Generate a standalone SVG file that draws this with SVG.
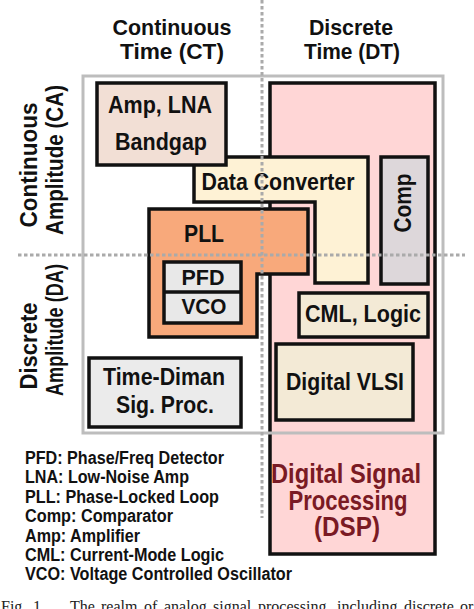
<svg xmlns="http://www.w3.org/2000/svg" width="474" height="609" viewBox="0 0 474 609">
<style>
.t{font-family:"Liberation Sans",Arial,sans-serif;font-weight:bold;fill:#111;text-anchor:middle}
.lg{font-family:"Liberation Sans",Arial,sans-serif;font-weight:bold;fill:#111;font-size:18px}
.dsp{fill:#7a1a24}
.box{stroke:#111;stroke-width:3.5}
.dot{stroke:#aaa;stroke-width:3;stroke-dasharray:3.5 2.5;fill:none}
.cap{font-family:"Liberation Serif","Times New Roman",serif;font-size:16px;fill:#222}
</style>
<rect width="474" height="609" fill="#fff"/>
<g id="headers">
<text class="t" font-size="22.5" x="172" y="35" textLength="119" lengthAdjust="spacingAndGlyphs">Continuous</text>
<text class="t" font-size="22.5" x="172" y="59" textLength="104" lengthAdjust="spacingAndGlyphs">Time (CT)</text>
<text class="t" font-size="22.5" x="351" y="35" textLength="84" lengthAdjust="spacingAndGlyphs">Discrete</text>
<text class="t" font-size="22.5" x="352" y="59" textLength="96" lengthAdjust="spacingAndGlyphs">Time (DT)</text>
<text class="t" font-size="23.5" transform="translate(37,165) rotate(-90)" textLength="125" lengthAdjust="spacingAndGlyphs">Continuous</text>
<text class="t" font-size="23.5" transform="translate(63,160) rotate(-90)" textLength="150" lengthAdjust="spacingAndGlyphs">Amplitude (CA)</text>
<text class="t" font-size="23.5" transform="translate(37,346) rotate(-90)" textLength="87" lengthAdjust="spacingAndGlyphs">Discrete</text>
<text class="t" font-size="23.5" transform="translate(63,330) rotate(-90)" textLength="132" lengthAdjust="spacingAndGlyphs">Amplitude (DA)</text>
</g>
<g id="dsp">
<rect class="box" x="270" y="83" width="165" height="471" fill="#ffd6d6"/>
<text class="t dsp" font-size="27" x="346" y="483" style="fill:#7a1a24" textLength="150" lengthAdjust="spacingAndGlyphs">Digital Signal</text>
<text class="t dsp" font-size="27" x="348" y="510" style="fill:#7a1a24" textLength="119" lengthAdjust="spacingAndGlyphs">Processing</text>
<text class="t dsp" font-size="27" x="347" y="536" style="fill:#7a1a24" textLength="66" lengthAdjust="spacingAndGlyphs">(DSP)</text>
</g>
<g id="realm">
<rect x="83" y="76" width="360" height="357" fill="none" stroke="#bdbdbd" stroke-width="3"/>
</g>
<g id="data-converter">
<polygon class="box" points="194,157 368,157 368,283 315,283 315,202 194,202" fill="#fef2d5"/>
<text class="t" font-size="23" x="278" y="190" textLength="153" lengthAdjust="spacingAndGlyphs">Data Converter</text>
</g>
<g id="amp-lna">
<rect class="box" x="97" y="83" width="129" height="82" fill="#f2dfd5"/>
<text class="t" font-size="23" x="160" y="113" textLength="104" lengthAdjust="spacingAndGlyphs">Amp, LNA</text>
<text class="t" font-size="23" x="161" y="150" textLength="92" lengthAdjust="spacingAndGlyphs">Bandgap</text>
</g>
<g id="comp">
<rect class="box" x="381" y="157" width="47" height="127" fill="#ddd7da"/>
<text class="t" font-size="23" transform="translate(411,203) rotate(-90)" textLength="59" lengthAdjust="spacingAndGlyphs">Comp</text>
</g>
<g id="pll">
<polygon class="box" points="149,209 308,209 308,274 257,274 257,337 149,337" fill="#f8a97b"/>
<text class="t" font-size="24" x="204" y="242" textLength="40" lengthAdjust="spacingAndGlyphs">PLL</text>
</g>
<g id="pfd-vco">
<rect class="box" x="164" y="262" width="77" height="61" fill="#e8e8e8"/>
<line class="box" x1="164" y1="292" x2="241" y2="292"/>
<text class="t" font-size="22" x="203" y="285" textLength="43" lengthAdjust="spacingAndGlyphs">PFD</text>
<text class="t" font-size="22" x="204" y="314" textLength="45" lengthAdjust="spacingAndGlyphs">VCO</text>
</g>
<g id="time-diman">
<rect class="box" x="89" y="358" width="152" height="69" fill="#ebebeb"/>
<text class="t" font-size="24" x="164" y="385" textLength="122" lengthAdjust="spacingAndGlyphs">Time-Diman</text>
<text class="t" font-size="24" x="165" y="413" textLength="98" lengthAdjust="spacingAndGlyphs">Sig. Proc.</text>
</g>
<g id="cml-logic">
<rect class="box" x="299" y="293" width="129" height="44" fill="#f3ead6"/>
<text class="t" font-size="23" x="363" y="322" textLength="116" lengthAdjust="spacingAndGlyphs">CML, Logic</text>
</g>
<g id="digital-vlsi">
<rect class="box" x="276" y="344" width="137" height="76" fill="#f3ead6"/>
<text class="t" font-size="24" x="345" y="390" textLength="118" lengthAdjust="spacingAndGlyphs">Digital VLSI</text>
</g>
<g id="connectors">
<line class="dot" x1="262" y1="0" x2="262" y2="518"/>
<line class="dot" x1="18" y1="255" x2="465" y2="255"/>
</g>
<g id="legend">
<text class="lg" x="25" y="464" textLength="199" lengthAdjust="spacingAndGlyphs">PFD: Phase/Freq Detector</text>
<text class="lg" x="25" y="483.4" textLength="164" lengthAdjust="spacingAndGlyphs">LNA: Low-Noise Amp</text>
<text class="lg" x="25" y="502.8" textLength="194" lengthAdjust="spacingAndGlyphs">PLL: Phase-Locked Loop</text>
<text class="lg" x="25" y="522.2" textLength="148" lengthAdjust="spacingAndGlyphs">Comp: Comparator</text>
<text class="lg" x="25" y="541.6" textLength="115" lengthAdjust="spacingAndGlyphs">Amp: Amplifier</text>
<text class="lg" x="25" y="561" textLength="199" lengthAdjust="spacingAndGlyphs">CML: Current-Mode Logic</text>
<text class="lg" x="25" y="580.4" textLength="267" lengthAdjust="spacingAndGlyphs">VCO: Voltage Controlled Oscillator</text>
</g>
<g id="caption">
<text class="cap" y="612"><tspan x="1">Fig.</tspan><tspan x="33">1.</tspan><tspan x="70">The</tspan><tspan x="101">realm</tspan><tspan x="144">of</tspan><tspan x="164">analog</tspan><tspan x="213">signal</tspan><tspan x="258">processing,</tspan><tspan x="337">including</tspan><tspan x="404">discrete</tspan><tspan x="460">or</tspan></text>
</g>
</svg>
